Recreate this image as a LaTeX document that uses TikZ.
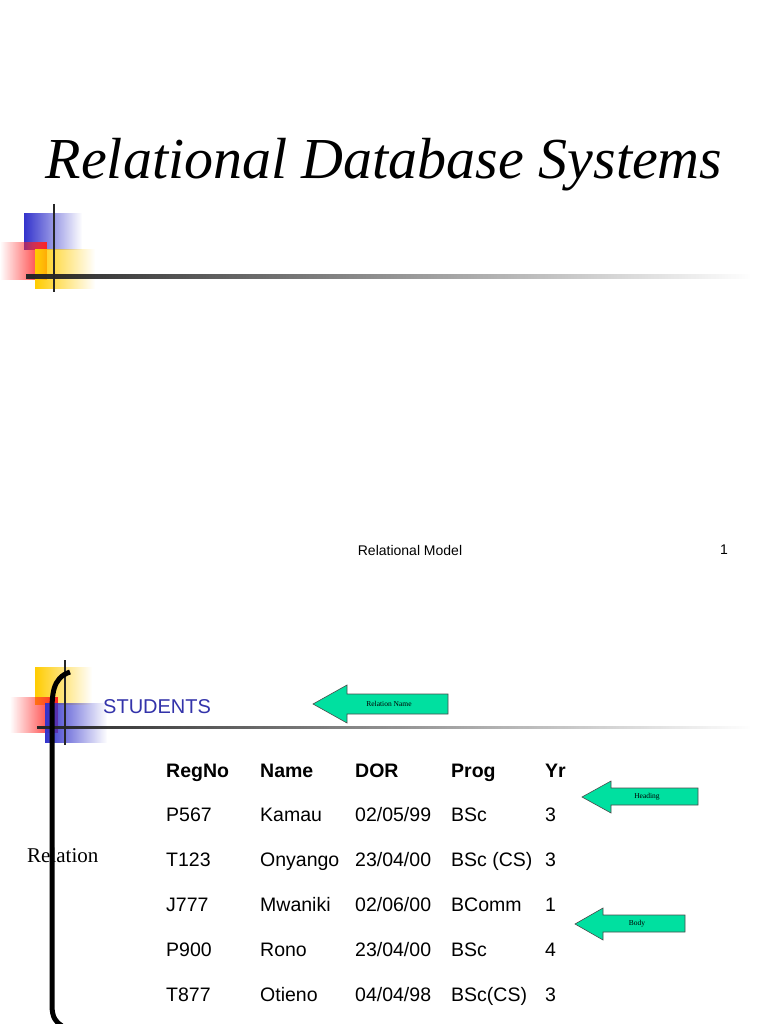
\documentclass[tikz,border=0pt]{standalone}
\usepackage{fontspec}
\setmainfont{Liberation Serif}
\setsansfont{Liberation Sans}
\usetikzlibrary{fadings}
\definecolor{sqblue}{HTML}{3333CC}
\definecolor{sqred}{HTML}{FF2020}
\definecolor{sqyel}{HTML}{FFCC00}
\definecolor{stud}{HTML}{3333AA}
\definecolor{arr}{HTML}{00E0A0}
\tikzfading[name=fr, left color=transparent!0, right color=transparent!100]
\tikzfading[name=fl, left color=transparent!100, right color=transparent!0]
\tikzset{
 cell/.style={font=\sffamily\fontsize{19.5}{19.5}\selectfont, anchor=base west, inner sep=0},
 hcell/.style={cell, font=\sffamily\bfseries\fontsize{19.5}{19.5}\selectfont},
 larrow/.style={draw=black!70, fill=arr, line width=0.6pt},
 alabel/.style={font=\fontsize{7.5}{7.5}\selectfont}
}
\begin{document}
\begin{tikzpicture}[x=1pt,y=-1pt]
\useasboundingbox (0,0) rectangle (768,1024);
\fill[white] (0,0) rectangle (768,1024);
% slide 1 decoration
\fill[sqblue, path fading=fr] (24,213) rectangle (82,250);
\fill[sqred, path fading=fl] (0,242) rectangle (47,280);
\fill[sqyel, path fading=fr] (35,249) rectangle (95,289);
\fill[black!85, path fading=fr] (26,273.5) rectangle (750,278.5);
\draw[black!85, line width=2pt] (54,204) -- (54,292);
\node[font=\itshape\fontsize{58}{58}\selectfont] (title) at (384,165) {Relational Database Systems};
\node[font=\sffamily\fontsize{14}{14}\selectfont] (foot) at (410,550) {Relational Model};
\node[font=\sffamily\fontsize{14}{14}\selectfont] (page) at (724,550) {1};
% slide 2 decoration
\fill[sqyel, path fading=fr] (35,667) rectangle (92,705);
\fill[sqred, path fading=fl] (10,697) rectangle (58,733);
\fill[sqblue, path fading=fr] (45,703) rectangle (107,743);
\fill[black!85, path fading=fr] (37,725.5) rectangle (750,728.5);
\draw[black!85, line width=1.5pt] (65,660) -- (65,745);
\draw[black, line width=5pt] (70,672) .. controls (52,678) and (52,695) .. (52,715) -- (52,1005) .. controls (52,1018) and (56,1022) .. (62,1026);
\node[font=\sffamily\fontsize{20}{20}\selectfont, text=stud, anchor=west, inner sep=0] (stu) at (103,707) {STUDENTS};
% arrows
\draw[larrow] (313,704) -- (347,685) -- (347,694) -- (448,694) -- (448,714) -- (347,714) -- (347,723) -- cycle;
\node[alabel] (l1) at (389,704) {Relation Name};
\draw[larrow] (582,797) -- (611,781) -- (611,788) -- (698,788) -- (698,805) -- (611,805) -- (611,813) -- cycle;
\node[alabel] (l2) at (647,797) {Heading};
\draw[larrow] (575,924) -- (603,908) -- (603,915) -- (685,915) -- (685,932) -- (603,932) -- (603,940) -- cycle;
\node[alabel] (l3) at (637,924) {Body};
\node[font=\fontsize{21}{21}\selectfont, anchor=west, inner sep=0] (rel) at (27,855) {Relation};
% table
\foreach \t [count=\i from 0] in {RegNo,Name,DOR,Prog,Yr}{
 \pgfmathsetmacro\xx{{166,260,355,451,545}[\i]}
 \node[hcell] (h\i) at (\xx,777) {\t};
}
\foreach \y/\a/\b/\c/\d/\e in {821/P567/Kamau/02\slash05\slash99/BSc/3, 866/T123/Onyango/23\slash04\slash00/BSc (CS)/3, 911/J777/Mwaniki/02\slash06\slash00/BComm/1, 956/P900/Rono/23\slash04\slash00/BSc/4, 1001/T877/Otieno/04\slash04\slash98/BSc(CS)/3}{
 \node[cell] at (166,\y) {\a};
 \node[cell] at (260,\y) {\b};
 \node[cell] at (355,\y) {\c};
 \node[cell] at (451,\y) {\d};
 \node[cell] at (545,\y) {\e};
}
\end{tikzpicture}
\end{document}
